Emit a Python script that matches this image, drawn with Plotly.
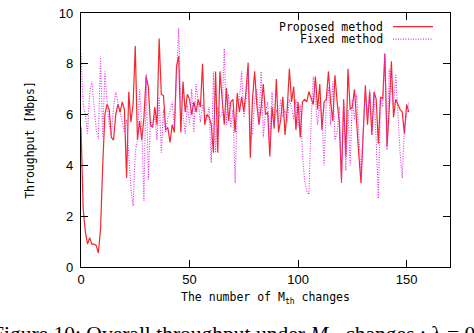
import plotly.graph_objects as go

proposed = [5.5, 2.3, 1.4, 0.9, 1.15, 0.9, 0.9, 0.85, 0.55, 1.5,
            4.0, 6.0, 6.4, 6.2, 5.1, 5.0, 6.0, 6.4, 6.1, 6.5,
            6.2, 3.5, 6.9, 5.7, 6.4, 8.7, 5.0, 5.75, 5.0, 5.9,
            7.5, 7.1, 5.6, 5.5, 6.3, 5.6, 9.0, 6.8, 6.75, 5.4,
            5.5, 4.9, 5.6, 5.3, 7.9, 8.3, 5.3, 7.3, 6.1, 6.8,
            6.6, 6.0, 6.5, 6.1, 6.6, 6.3, 8.0, 5.6, 6.0, 5.9,
            5.6, 4.5, 7.7, 4.5, 7.7, 6.5, 5.6, 7.05, 5.75, 6.5,
            6.6, 5.3, 6.85, 6.1, 6.7, 6.1, 6.9, 8.05, 4.3, 6.6,
            7.7, 6.4, 5.6, 6.3, 7.2, 6.0, 6.1, 4.35, 6.3, 5.45,
            7.4, 5.3, 5.8, 6.7, 5.2, 6.2, 7.8, 6.5, 7.1, 5.4,
            6.5, 5.1, 6.5, 6.6, 6.5, 6.9, 6.6, 6.4, 7.5, 6.2,
            7.2, 5.4, 6.5, 6.6, 7.7, 6.5, 5.75, 7.55, 6.5, 5.7,
            3.4, 6.6, 4.35, 7.8, 6.2, 6.3, 7.0, 5.6, 4.4, 3.3,
            5.2, 7.15, 5.6, 6.9, 5.2, 6.9, 6.6, 4.85, 6.7, 6.6,
            8.4, 4.75, 6.2, 8.1, 5.9, 6.6, 6.4, 6.2, 6.1, 5.25,
            6.4, 6.1]

fixed = [8.4, 6.4, 6.0, 5.25, 6.9, 7.3, 6.4, 5.4, 5.05, 8.3,
         5.1, 7.7, 6.5, 5.6, 5.2, 6.3, 6.9, 6.5, 6.0, 5.7,
         5.3, 5.8, 4.2, 3.1, 2.4, 4.5, 5.0, 7.0, 5.4, 2.6,
         7.6, 3.45, 5.8, 5.5, 6.0, 5.0, 6.7, 4.5, 6.2, 5.3,
         5.9, 6.1, 6.5, 5.5, 7.4, 9.4, 6.3, 6.0, 5.25, 6.4,
         5.6, 7.0, 5.3, 7.2, 6.5, 5.7, 6.4, 6.0, 5.8, 6.3,
         4.1, 7.7, 4.5, 6.3, 5.9, 6.0, 8.6, 5.6, 6.8, 5.5,
         6.2, 3.3, 6.4, 6.6, 7.7, 5.9, 6.5, 7.8, 5.5, 5.2,
         6.6, 7.0, 5.6, 7.7, 5.1, 6.1, 6.5, 4.8, 6.9, 5.6,
         6.2, 5.7, 6.6, 5.9, 6.2, 5.7, 6.6, 6.3, 5.8, 6.6,
         5.5, 6.4, 4.5, 3.4, 3.0, 2.85, 5.7, 7.5, 6.5, 5.6,
         6.5, 6.0, 4.0, 6.5, 7.1, 5.6, 7.3, 5.0, 5.3, 6.3,
         3.3, 6.5, 3.8, 6.2, 4.0, 6.6, 5.8, 6.8, 5.2, 3.6,
         5.4, 6.9, 5.9, 7.0, 5.4, 6.8, 5.0, 2.7, 6.7, 6.3,
         8.4, 4.6, 7.8, 6.9, 6.3, 7.6, 5.8, 4.5, 3.5, 5.5,
         6.0, 6.5]

x_vals = list(range(len(proposed)))
x_ticks = [0, 50, 100, 150]
y_ticks = [0, 2, 4, 6, 8, 10]
series_names = ["Proposed method", "Fixed method"]

RED = "#f02830"
MAG = "#e030e0"
MONO = "DejaVu Sans Mono"
DOT = "1px,1.5px"

fig = go.Figure()
fig.add_trace(go.Scatter(x=x_vals, y=proposed, mode="lines", name=series_names[0],
                         line=dict(color=RED, width=1.2)))
fig.add_trace(go.Scatter(x=list(range(len(fixed))), y=fixed, mode="lines", name=series_names[1],
                         line=dict(color=MAG, width=1.1, dash=DOT)))

axis_common = dict(showline=True, linecolor="black", linewidth=1.3, mirror="ticks",
                   ticks="inside", ticklen=7, tickwidth=1, tickcolor="black",
                   showgrid=False, zeroline=False, ticklabeloverflow="allow",
                   tickfont=dict(family="Liberation Sans", size=13, color="black"))

fig.update_layout(
    width=474, height=333,
    margin=dict(l=81, r=24, t=6, b=66),
    paper_bgcolor="white", plot_bgcolor="white",
    showlegend=False,
    xaxis=dict(range=[0, 170], tickvals=x_ticks,
               title=dict(text="The number of M<sub>th</sub> changes",
                          font=dict(family=MONO, size=11.5, color="black"), standoff=7),
               **axis_common),
    yaxis=dict(range=[0, 10], tickvals=y_ticks, ticklabelstandoff=4,
               title=dict(text="Throughput [Mbps]",
                          font=dict(family=MONO, size=11.5, color="black"), standoff=21),
               **axis_common),
)

# legend (top right, text then sample line)
leg_y = [0.946, 0.897]
colors = [RED, MAG]
dashes = ["solid", DOT]
for name, yy, c, d in zip(series_names, leg_y, colors, dashes):
    fig.add_annotation(x=0.821, y=yy, xref="paper", yref="paper", text=name,
                       showarrow=False, xanchor="right", yanchor="middle", borderpad=0,
                       font=dict(family=MONO, size=11.5, color="black"))
    fig.add_shape(type="line", xref="paper", yref="paper", x0=0.8455, x1=0.954,
                  y0=yy, y1=yy, line=dict(color=c, width=1.2, dash=d))

# caption (partly cut off by the page edge, as in the reference)
fig.add_annotation(x=-0.247, y=-0.21, xref="paper", yref="paper",
                   text="Figure 10: Overall throughput under <i>M</i><sub>th</sub> changes ; λ = 0.5",
                   showarrow=False, xanchor="left", yanchor="top",
                   font=dict(family="Liberation Serif", size=21.5, color="black"))

fig.write_html("out.html")
